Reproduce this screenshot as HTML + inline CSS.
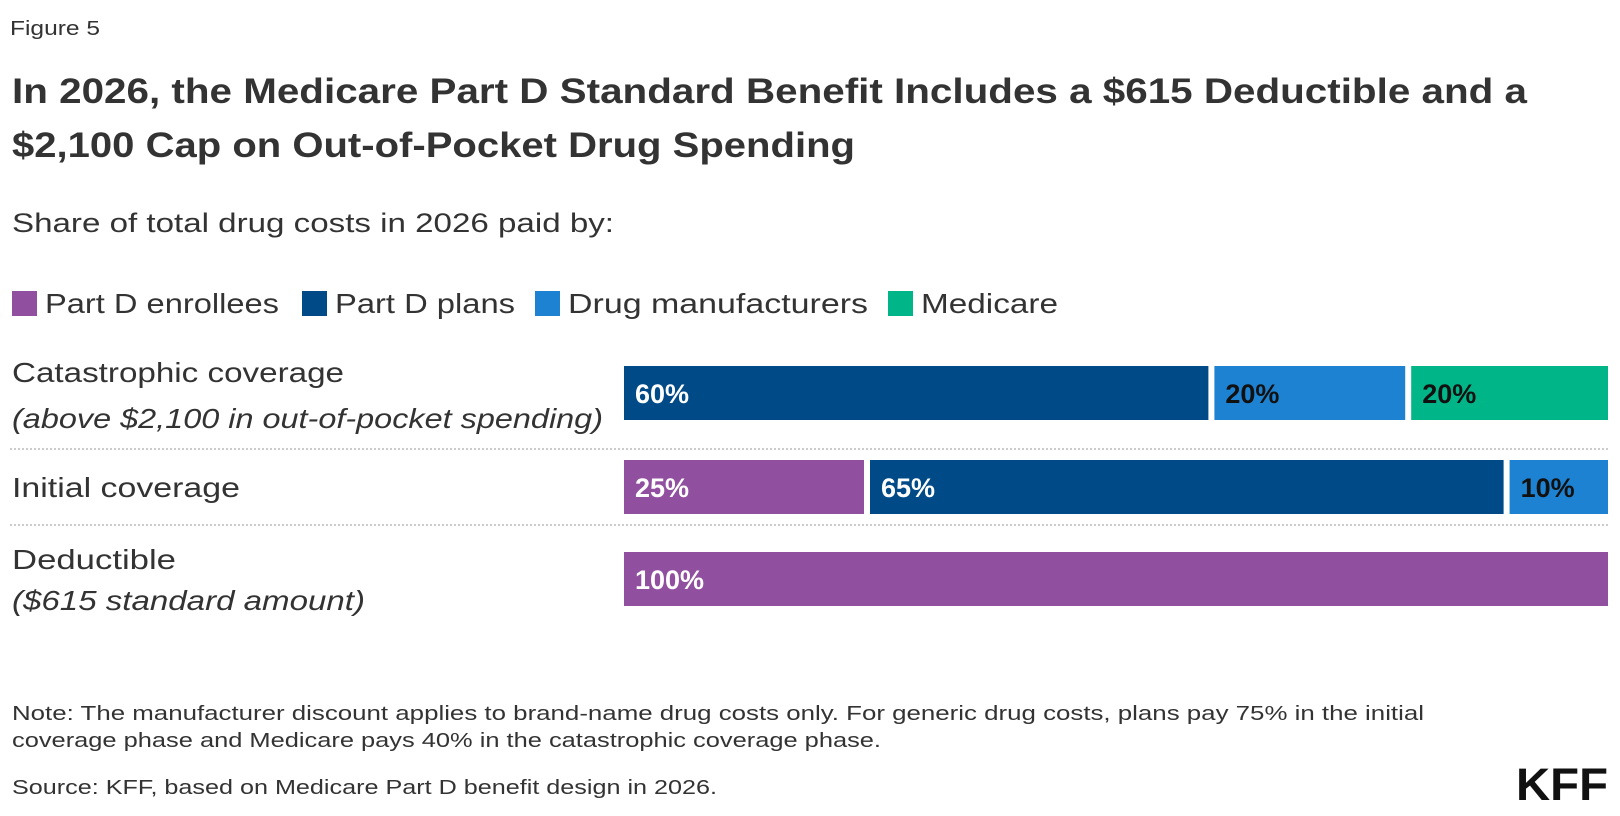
<!DOCTYPE html>
<html><head><meta charset="utf-8"><style>
body{margin:0;background:#fff;}
svg{display:block;font-family:"Liberation Sans",sans-serif;}
</style></head><body>
<svg id="chart" width="1620" height="816" viewBox="0 0 1620 816" xmlns="http://www.w3.org/2000/svg">
<text x="10" y="35" font-size="20" fill="#333" textLength="90" lengthAdjust="spacingAndGlyphs">Figure 5</text>
<text x="12" y="103" font-size="35" font-weight="bold" fill="#333" textLength="1515" lengthAdjust="spacingAndGlyphs">In 2026, the Medicare Part D Standard Benefit Includes a $615 Deductible and a</text>
<text x="12" y="157" font-size="35" font-weight="bold" fill="#333" textLength="843" lengthAdjust="spacingAndGlyphs">$2,100 Cap on Out-of-Pocket Drug Spending</text>
<text x="12" y="232" font-size="27" fill="#333" textLength="602" lengthAdjust="spacingAndGlyphs">Share of total drug costs in 2026 paid by:</text>
<g id="legend"></g>
<g id="rows">
<text x="12" y="382" font-size="28" fill="#333" textLength="332" lengthAdjust="spacingAndGlyphs">Catastrophic coverage</text>
<text x="12" y="428" font-size="28" font-style="italic" fill="#333" textLength="591" lengthAdjust="spacingAndGlyphs">(above $2,100 in out-of-pocket spending)</text>
<text x="12" y="497" font-size="28" fill="#333" textLength="228" lengthAdjust="spacingAndGlyphs">Initial coverage</text>
<text x="12" y="569" font-size="28" fill="#333" textLength="164" lengthAdjust="spacingAndGlyphs">Deductible</text>
<text x="12" y="610" font-size="28" font-style="italic" fill="#333" textLength="353" lengthAdjust="spacingAndGlyphs">($615 standard amount)</text>
</g>
<line x1="10" y1="449" x2="1608" y2="449" stroke="#ccc" stroke-width="2" stroke-dasharray="2,2"/>
<line x1="10" y1="525" x2="1608" y2="525" stroke="#ccc" stroke-width="2" stroke-dasharray="2,2"/>
<g id="bars"></g>
<text x="12" y="720" font-size="20" fill="#333" textLength="1412" lengthAdjust="spacingAndGlyphs">Note: The manufacturer discount applies to brand-name drug costs only. For generic drug costs, plans pay 75% in the initial</text>
<text x="12" y="747" font-size="20" fill="#333" textLength="869" lengthAdjust="spacingAndGlyphs">coverage phase and Medicare pays 40% in the catastrophic coverage phase.</text>
<text x="12" y="794" font-size="20" fill="#333" textLength="705" lengthAdjust="spacingAndGlyphs">Source: KFF, based on Medicare Part D benefit design in 2026.</text>
<text x="1516" y="800" font-size="45" font-weight="bold" fill="#111" textLength="92" lengthAdjust="spacingAndGlyphs">KFF</text>
</svg>
<script>
const seriesNames = ["Part D enrollees","Part D plans","Drug manufacturers","Medicare"];
const seriesColors = ["#914f9f","#004a87","#1e82d2","#00b587"];
const textColors = ["#fff","#fff","#111","#111"];
const categories = ["Catastrophic coverage","Initial coverage","Deductible"];
const enrollees = [0,25,100];
const plans = [60,65,0];
const manufacturers = [20,10,0];
const medicare = [20,0,0];
const series = [enrollees, plans, manufacturers, medicare];

const NS="http://www.w3.org/2000/svg";
const x0=624, x1=1608, gap=6;
const rowTop=[366,460,552], barH=54;
function xScale(v){return x0+(x1-x0)*v/100;}

const leg=document.getElementById('legend');
const legX=[12,302,535,888], legW=[234,180,300,137];
seriesNames.forEach((n,i)=>{
  const r=document.createElementNS(NS,'rect');
  
  
  r.setAttribute('x',legX[i]);r.setAttribute('y',291);r.setAttribute('width',25);r.setAttribute('height',25);r.setAttribute('fill',seriesColors[i]);
  leg.appendChild(r);
  const t=document.createElementNS(NS,'text');
  
  
  t.setAttribute('x',legX[i]+33);t.setAttribute('y',313);t.setAttribute('font-size','28');t.setAttribute('fill','#333');
  t.setAttribute('textLength',legW[i]);t.setAttribute('lengthAdjust','spacingAndGlyphs');
  t.textContent=n;leg.appendChild(t);
});

const g=document.getElementById('bars');
categories.forEach((c,ci)=>{
  let acc=0;
  const total=series.reduce((s,a)=>s+a[ci],0);
  series.forEach((arr,si)=>{
    const v=arr[ci]; if(!v) return;
    const xs=xScale(acc), xe=xScale(acc+v);
    acc+=v;
    const last = acc>=total;
    const w=(xe-xs)-(last?0:gap);
    const r=document.createElementNS(NS,'rect');
    
    
    r.setAttribute('x',xs);r.setAttribute('y',rowTop[ci]);r.setAttribute('width',w);r.setAttribute('height',barH);r.setAttribute('fill',seriesColors[si]);
    g.appendChild(r);
    const t=document.createElementNS(NS,'text');
    
    
    t.setAttribute('x',xs+11);t.setAttribute('y',rowTop[ci]+37);t.setAttribute('font-size','27');t.setAttribute('font-weight','bold');t.setAttribute('fill',textColors[si]);
    t.textContent=v+'%';g.appendChild(t);
  });
});
</script>
</body></html>
